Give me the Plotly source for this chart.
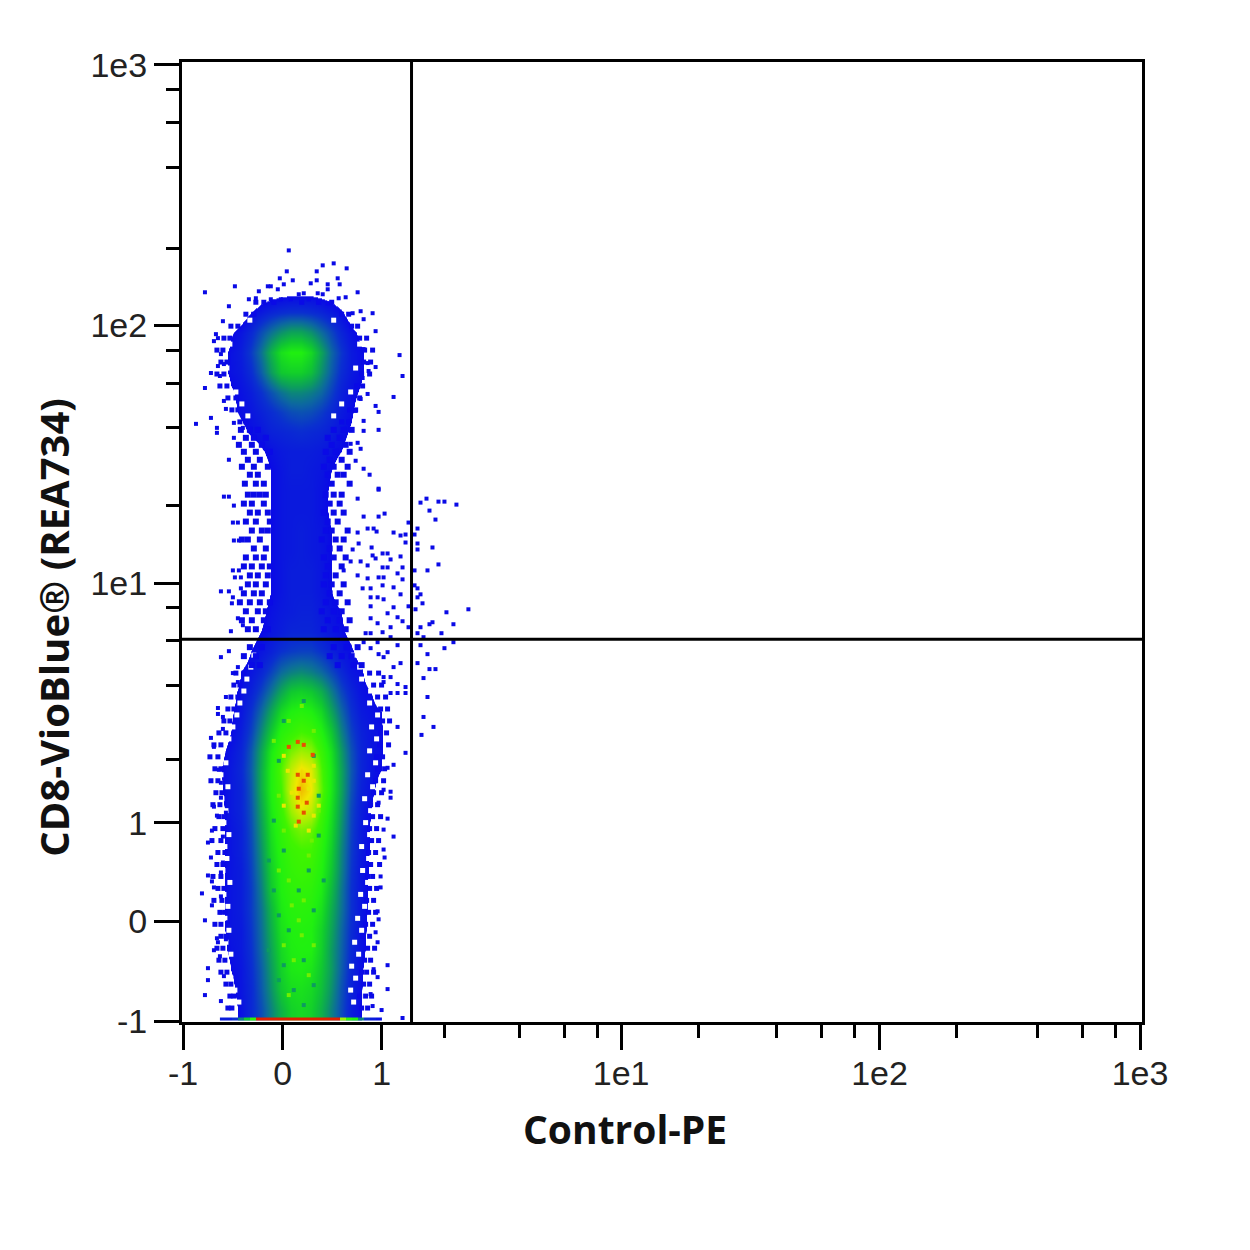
import plotly.graph_objects as go

# display channels, same scale on both axes
major_ticks = [-1, 99, 198, 438, 697, 958]
tick_labels = ["-1", "0", "1", "1e1", "1e2", "1e3"]
minor_ticks = [261, 336, 381, 414, 516, 594, 639, 672, 774, 855, 900, 933]
gate_x = 228
gate_y = 382

x_bins = [17, 27, 37, 47, 57, 67, 77, 87, 97, 107, 117, 127, 137, 147, 157, 167, 177, 187, 197, 207, 217]
y_bins = [10, 30, 50, 70, 90, 110, 130, 150, 170, 190, 210, 230, 250, 270, 290, 310, 330, 350, 370, 390,
          410, 430, 450, 470, 490, 510, 530, 550, 570, 590, 610, 630, 650, 670, 690, 710, 730]

# density level per bin (bottom row first)
density = [
    [0, 0, 0, .6, 1.2, 1.8, 2.5, 3.5, 4.5, 5.2, 5.4, 5.2, 4.5, 3.5, 2.5, 1.5, 1, 0, 0, 0, 0],
    [0, 0, 0, .8, 1.3, 1.8, 2.7, 3.8, 5, 5.5, 5.6, 5.4, 4.8, 3.8, 2.6, 1.6, 1.1, 0, 0, 0, 0],
    [0, 0, .3, 1, 1.3, 1.9, 2.8, 4, 5.2, 5.8, 5.9, 5.7, 5, 4, 2.8, 1.7, 1.1, .5, 0, 0, 0],
    [0, 0, .7, 1.2, 1.4, 2, 3, 4.2, 5.4, 5.9, 6, 6, 5.2, 4, 2.9, 1.8, 1.2, .7, 0, 0, 0],
    [0, 0, .8, 1.3, 1.4, 2.1, 3.1, 4.4, 5.6, 6, 6.1, 6, 5.3, 4.2, 3, 1.9, 1.2, .8, 0, 0, 0],
    [0, 0, .8, 1.3, 1.5, 2.2, 3.2, 4.6, 5.8, 6.2, 6.3, 6.2, 5.6, 4.4, 3.2, 2, 1.3, .8, 0, 0, 0],
    [0, 0, .8, 1.3, 1.5, 2.2, 3.4, 5, 6, 6.4, 6.5, 6.4, 5.9, 4.7, 3.3, 2, 1.3, .8, 0, 0, 0],
    [0, 0, .8, 1.3, 1.5, 2.3, 3.6, 5.2, 6.1, 6.6, 6.8, 6.7, 6.1, 5, 3.5, 2.1, 1.3, .9, 0, 0, 0],
    [0, 0, .8, 1.3, 1.6, 2.4, 3.8, 5.4, 6.3, 6.8, 7, 7, 6.3, 5.2, 3.6, 2.2, 1.4, .9, 0, 0, 0],
    [0, 0, .8, 1.3, 1.6, 2.5, 4, 5.6, 6.5, 7.2, 7.6, 7.4, 6.6, 5.4, 3.8, 2.3, 1.4, .9, 0, 0, 0],
    [0, 0, .8, 1.4, 1.7, 2.6, 4.2, 5.8, 6.8, 8, 8.8, 8.4, 7, 5.6, 4, 2.4, 1.5, 1, 0, 0, 0],
    [0, 0, .9, 1.4, 1.7, 2.7, 4.4, 6, 7, 8.6, 9.6, 9, 7.4, 5.8, 4.2, 2.6, 1.6, 1.2, .6, 0, 0],
    [0, 0, 1, 1.4, 1.8, 2.8, 4.4, 6, 7.2, 8.4, 9.2, 8.8, 7.2, 5.8, 4.2, 2.7, 1.7, 1.3, 1, 0, 0],
    [0, 0, .8, 1.3, 1.7, 2.7, 4.2, 5.8, 6.8, 7.6, 8, 7.8, 6.8, 5.6, 4, 2.6, 1.7, 1.3, 1.1, .4, 0],
    [0, 0, .4, 1, 1.5, 2.3, 3.6, 5, 6.2, 6.6, 7, 6.8, 6.1, 5, 3.5, 2.3, 1.6, 1.3, 1.1, .4, 0],
    [0, 0, 0, .9, 1.3, 2, 3, 4.2, 5.4, 6, 6.2, 6, 5.4, 4.2, 3, 2, 1.4, 1.2, 1, .3, 0],
    [0, 0, 0, .7, 1.2, 1.6, 2.3, 3.2, 4.2, 5, 5.2, 5, 4.4, 3.4, 2.4, 1.7, 1.2, 1, .5, 0, 0],
    [0, 0, 0, 0, 1, 1.3, 1.7, 2.3, 3, 3.4, 3.6, 3.4, 3, 2.4, 1.8, 1.3, 1.1, .5, 0, 0, 0],
    [0, 0, 0, 0, .5, 1, 1.3, 1.6, 2, 2.2, 2.3, 2.3, 2, 1.6, 1.3, 1.1, .7, 0, 0, 0, 0],
    [0, 0, 0, 0, 0, .7, 1, 1.3, 1.5, 1.7, 1.7, 1.7, 1.5, 1.3, 1.1, .8, 0, 0, 0, 0, 0],
    [0, 0, 0, 0, 0, .5, .8, 1.2, 1.4, 1.5, 1.6, 1.6, 1.4, 1.2, 1, .6, 0, 0, 0, 0, 0],
    [0, 0, 0, 0, 0, 0, .6, 1, 1.3, 1.5, 1.5, 1.5, 1.3, 1, .7, 0, 0, 0, 0, 0, 0],
    [0, 0, 0, 0, 0, 0, .6, 1, 1.3, 1.5, 1.5, 1.5, 1.3, 1, .7, 0, 0, 0, 0, 0, 0],
    [0, 0, 0, 0, 0, 0, .5, 1, 1.3, 1.4, 1.5, 1.4, 1.3, 1, .6, 0, 0, 0, 0, 0, 0],
    [0, 0, 0, 0, 0, 0, .5, 1, 1.3, 1.4, 1.5, 1.4, 1.3, 1, .6, 0, 0, 0, 0, 0, 0],
    [0, 0, 0, 0, 0, 0, .5, 1, 1.3, 1.4, 1.4, 1.4, 1.2, .9, .5, 0, 0, 0, 0, 0, 0],
    [0, 0, 0, 0, 0, 0, .5, 1, 1.3, 1.4, 1.4, 1.4, 1.2, .9, .5, 0, 0, 0, 0, 0, 0],
    [0, 0, 0, 0, 0, 0, .6, 1, 1.3, 1.5, 1.5, 1.4, 1.3, 1, .7, 0, 0, 0, 0, 0, 0],
    [0, 0, 0, 0, 0, .6, .9, 1.2, 1.4, 1.5, 1.5, 1.5, 1.4, 1.2, 1, .7, 0, 0, 0, 0, 0],
    [0, 0, 0, .5, .8, 1.1, 1.3, 1.6, 1.7, 1.8, 1.9, 1.8, 1.7, 1.5, 1.2, .9, .5, 0, 0, 0, 0],
    [0, 0, 0, .8, 1.1, 1.3, 1.6, 1.9, 2.2, 2.5, 2.6, 2.5, 2.2, 1.8, 1.4, 1.1, .6, 0, 0, 0, 0],
    [0, 0, 0, .9, 1.2, 1.5, 2, 2.6, 3.2, 3.6, 3.6, 3.4, 3, 2.3, 1.6, 1.2, .9, 0, 0, 0, 0],
    [0, 0, .6, 1.2, 1.4, 1.9, 2.8, 4, 5, 5.2, 5.2, 4.8, 3.8, 2.8, 1.9, 1.4, 1.1, .7, 0, 0, 0],
    [0, 0, .6, 1.2, 1.5, 2.2, 3.2, 4.5, 5.6, 6, 6, 5.4, 4.2, 3, 2.1, 1.4, 1.1, .7, 0, 0, 0],
    [0, 0, 0, .9, 1.3, 1.8, 2.5, 3.2, 3.8, 4.2, 4.2, 3.8, 3.1, 2.4, 1.7, 1.2, .8, 0, 0, 0, 0],
    [0, 0, 0, 0, .5, 1, 1.4, 1.7, 1.9, 2, 2, 1.9, 1.7, 1.4, 1.1, .6, 0, 0, 0, 0, 0],
    [0, 0, 0, 0, 0, 0, .4, .6, .7, .8, .8, .8, .7, .6, .4, 0, 0, 0, 0, 0, 0],
]

# events piled up on the bottom edge
floor_x = [39, 45, 51, 57, 63, 69, 75, 81, 87, 93, 99, 105, 111, 117, 123, 129, 135, 141, 147, 153, 159, 165, 171,
           177, 183, 189, 195]
floor_level = [1.5, 1.5, 2, 3.5, 5, 6.5, 11, 11, 11, 11, 11, 11, 11, 11, 11, 11, 11, 11, 11, 11, 8, 6.5, 6, 3.5, 2,
               1.5, 1.2]

# single bins away from the main populations
outliers = [
    (237, 519), (243, 523), (255, 520), (261, 520), (273, 517), (246, 511), (252, 502), (225, 499), (234, 493),
    (231, 487), (222, 487), (222, 479), (234, 478), (234, 472), (249, 474), (255, 457), (244, 451), (231, 451),
    (231, 436), (234, 433), (237, 427), (234, 424), (239, 418), (225, 415), (232, 412), (263, 409), (285, 412),
    (249, 399), (246, 397), (270, 397), (237, 394), (225, 394), (219, 400), (258, 388), (240, 384), (234, 388),
    (270, 379), (261, 373), (237, 376), (244, 367), (234, 358), (246, 352), (252, 352), (240, 343), (222, 334),
    (222, 328), (244, 324), (240, 304), (250, 294), (238, 286), (214, 294), (222, 268),
    (195, 532), (174, 523), (180, 505), (195, 505), (201, 508), (184, 493), (193, 490), (190, 493), (174, 489),
    (210, 489), (217, 486), (175, 478), (188, 474), (169, 472), (199, 468), (204, 468), (189, 466), (192, 463),
    (217, 465), (207, 462), (167, 460), (177, 460), (184, 456), (199, 454), (204, 454), (219, 454), (160, 451),
    (214, 448), (174, 446), (184, 443), (195, 444), (200, 444), (219, 442), (199, 436), (210, 434), (179, 433),
    (187, 433), (217, 427), (187, 424), (194, 424), (200, 422), (187, 415), (210, 414), (204, 408), (214, 404),
    (187, 403), (194, 398), (207, 394), (199, 389), (182, 388), (187, 388), (207, 384), (180, 379), (194, 379),
    (214, 376), (187, 373), (195, 367), (204, 369), (200, 364), (217, 358), (210, 354), (200, 344), (207, 344),
    (200, 339), (214, 337), (207, 328), (214, 328),
    (40, 525), (45, 525), (50, 516), (49, 499), (54, 499), (50, 481), (55, 481), (49, 451), (55, 451), (51, 444),
    (57, 444), (37, 430), (45, 430), (49, 424), (57, 433), (48, 418), (54, 403), (47, 390), (59, 396), (37, 364),
    (45, 370), (54, 354), (49, 348), (54, 339), (42, 324), (34, 313), (34, 307), (39, 304), (39, 292), (27, 283),
    (30, 274),
    (105, 772), (150, 759), (139, 757), (163, 754), (103, 751), (133, 751), (96, 744), (154, 744), (109, 742),
    (133, 742), (127, 739), (144, 738), (156, 738), (51, 736), (144, 733), (174, 730), (21, 730), (189, 709),
    (180, 703), (192, 691), (216, 667), (192, 655), (219, 646), (210, 625), (192, 616), (195, 610), (12, 598),
    (27, 604), (33, 594), (33, 589), (195, 592), (180, 591), (45, 562), (186, 547), (180, 553), (195, 533),
    (27, 649), (21, 634), (36, 646), (75, 731), (84, 736), (87, 736), (94, 733), (100, 738), (115, 728), (120, 729),
    (134, 729), (139, 728), (162, 725), (155, 724), (65, 723), (45, 716), (72, 724), (87, 723), (97, 723),
    (107, 723), (125, 723), (144, 719), (169, 709), (177, 711), (39, 701), (32, 688), (34, 684), (30, 681),
    (37, 668), (34, 656), (40, 658), (180, 673), (184, 659), (185, 651), (179, 644), (184, 628), (177, 623),
    (172, 611), (180, 601), (174, 579), (167, 578), (177, 573), (172, 561), (40, 621), (42, 613), (50, 599),
    (50, 584), (59, 594),
    (210, 256), (204, 253), (207, 229), (207, 223), (204, 202), (210, 184), (201, 163), (30, 214), (33, 205),
    (28, 190), (24, 178), (27, 163), (24, 145), (28, 139), (30, 133), (18, 127), (28, 115), (21, 100), (30, 70),
    (24, 52), (24, 40), (21, 25), (204, 55), (204, 31), (198, 10), (219, 2), (33, 82), (36, 64),
    (35, 251), (37, 238), (37, 223), (42, 208), (39, 184), (39, 158), (37, 148), (37, 124), (37, 108), (44, 98),
    (34, 78), (42, 81), (40, 44), (37, 19), (200, 231), (195, 218), (200, 191), (200, 171), (197, 144), (197, 133),
    (194, 109), (195, 101), (192, 88), (194, 78), (190, 51), (194, 43), (187, 26), (189, 14),
]

# patchy bins either side of the narrow waist, channel y -> channel x
flank_rows = {
    592: [57, 66, 74, 150, 160, 168], 584: [62, 70, 82, 144, 156], 577: [55, 68, 78, 148, 162],
    570: [60, 72, 86, 142, 152, 166], 562: [64, 76, 146, 158], 555: [58, 70, 84, 140, 150, 164],
    547: [66, 74, 144, 154, 160], 538: [61, 72, 80, 148, 166], 527: [64, 70, 76, 82, 142, 150, 158],
    518: [60, 68, 80, 146, 156], 509: [66, 74, 84, 140, 150, 160], 500: [62, 72, 86, 144, 154],
    491: [68, 78, 84, 142, 148, 164], 482: [58, 64, 76, 138, 152, 160], 473: [70, 82, 146, 156],
    464: [62, 72, 80, 140, 150, 162], 455: [60, 68, 78, 86, 144, 158], 446: [66, 74, 84, 142, 152],
    437: [64, 72, 82, 140, 148, 160], 428: [60, 70, 78, 146, 156], 419: [56, 66, 76, 86, 142, 152, 164],
    410: [62, 74, 82, 138, 150, 158], 401: [58, 68, 80, 144, 156, 166], 392: [64, 72, 84, 140, 152, 162],
    374: [66, 78, 150, 163, 174], 365: [60, 72, 146, 158, 168], 356: [68, 76, 154, 170, 178],
}

# rough outer rim of the two big populations, channel y -> channel x
edge_rows = {
    12: [44, 48, 178, 184], 24: [46, 50, 176, 182, 188], 36: [42, 47, 180, 186], 48: [37, 43, 178, 183, 190],
    60: [35, 41, 181, 187], 72: [33, 39, 184, 191], 84: [37, 42, 179, 186], 96: [31, 37, 182, 189],
    108: [36, 41, 185, 192], 120: [30, 38, 183, 190], 132: [34, 40, 186, 193], 144: [29, 37, 184, 189],
    156: [33, 39, 187, 196], 168: [34, 41, 185, 192], 180: [28, 37, 188, 195], 192: [31, 39, 186, 193],
    204: [35, 40, 189, 197], 216: [29, 36, 187, 194], 228: [32, 38, 190, 198], 240: [27, 34, 192, 200],
    252: [31, 37, 194, 201], 264: [26, 34, 193, 199], 276: [30, 37, 196, 205], 288: [35, 42, 197, 203],
    300: [40, 46, 199, 206], 312: [44, 50, 197, 204], 324: [47, 54, 194, 202], 336: [50, 56, 190, 198],
    348: [52, 60, 186, 195],
    600: [56, 62, 158, 165], 612: [48, 54, 166, 172], 624: [44, 52, 170, 176], 636: [36, 43, 173, 179],
    648: [33, 40, 178, 186], 660: [37, 43, 180, 187], 672: [33, 39, 181, 189], 684: [40, 46, 176, 183],
    696: [47, 54, 168, 174], 708: [62, 70, 158, 165], 720: [72, 80, 90, 118, 135, 148],
}

# empty bins just inside that rim, channel y -> channel x
gap_rows = {
    18: [55, 170], 30: [51, 167], 42: [47, 172], 54: [44, 168], 66: [47, 175], 78: [42, 171], 90: [45, 178],
    102: [41, 174], 114: [44, 181], 126: [40, 177], 138: [46, 184], 150: [39, 179], 162: [43, 185], 174: [41, 178],
    186: [45, 186], 198: [40, 182], 210: [42, 187], 222: [38, 181], 234: [44, 189], 246: [37, 184], 258: [42, 192],
    270: [39, 186], 282: [45, 193], 294: [49, 188], 306: [53, 194], 318: [56, 186], 330: [60, 187], 342: [63, 178],
    354: [67, 176], 366: [70, 170],
    606: [64, 150], 618: [58, 158], 630: [52, 167], 654: [43, 172], 678: [46, 176], 702: [66, 150],
}

# grain inside the dense core
grain_dark = [(95, 40), (120, 60), (105, 90), (130, 110), (90, 130), (125, 150), (100, 170), (135, 185), (110, 30),
              (85, 70), (130, 35), (95, 105), (140, 140), (85, 160), (120, 15), (100, 55), (115, 130), (90, 200),
              (135, 225), (100, 300), (120, 320), (130, 265), (95, 260)]
grain_light = [(105, 25), (125, 45), (100, 75), (115, 100), (105, 140), (125, 165), (95, 150), (110, 60), (120, 120),
               (130, 75), (100, 190), (135, 210), (95, 225), (105, 300), (118, 315), (130, 290), (90, 280), (128, 180),
               (108, 115), (118, 85)]
grain_yellow = [(100, 215), (108, 228), (125, 232), (130, 240), (104, 250), (130, 255), (100, 265), (135, 215),
                (112, 195), (125, 190), (130, 205)]
grain_hot = [(114, 246), (124, 246), (120, 240), (115, 232), (114, 223), (123, 218), (114, 214), (120, 208), (115, 199),
             (114, 279), (120, 276), (105, 274), (129, 266)]

BLUE = "#0a0ae6"
Z_MAX = 11
colorscale = [
    [0, "#ffffff"], [0.99 / Z_MAX, "#ffffff"], [1 / Z_MAX, BLUE], [2 / Z_MAX, "#0a30d0"], [3 / Z_MAX, "#0c68a0"],
    [4 / Z_MAX, "#0c9c60"], [5 / Z_MAX, "#10c830"], [6 / Z_MAX, "#20f010"], [7 / Z_MAX, "#40f400"],
    [8 / Z_MAX, "#a0f000"], [9 / Z_MAX, "#f0e800"], [10 / Z_MAX, "#f0a000"], [1, "#e02000"],
]


def rows_to_xy(rows):
    xs = [x for row in rows.values() for x in row]
    ys = [y for y, row in rows.items() for _ in row]
    return xs, ys


def add_bins(fig, xs, ys, color, size):
    fig.add_trace(go.Scatter(
        x=xs, y=ys, mode="markers", hoverinfo="skip",
        marker=dict(symbol="square", size=size, color=color, line_width=0),
    ))


fig = go.Figure()

fig.add_trace(go.Heatmap(
    x=x_bins, y=y_bins, z=density, zmin=0, zmax=Z_MAX, zsmooth="best",
    colorscale=colorscale, showscale=False, hoverinfo="skip",
))
fig.add_trace(go.Heatmap(
    x=floor_x, y0=1, dy=3, z=[floor_level], zmin=0, zmax=Z_MAX,
    colorscale=colorscale, showscale=False, hoverinfo="skip",
))

for points, color in [(grain_dark, "#0c9c60"), (grain_light, "#70f000"), (grain_yellow, "#e8e800"), (grain_hot, "#e85000")]:
    add_bins(fig, [p[0] for p in points], [p[1] for p in points], color, 4)

add_bins(fig, *rows_to_xy(gap_rows), "#ffffff", 5)
add_bins(fig, *rows_to_xy(edge_rows), BLUE, 5)
add_bins(fig, *rows_to_xy(flank_rows), BLUE, 6)
add_bins(fig, [p[0] for p in outliers], [p[1] for p in outliers], BLUE, 4)

axis_style = dict(
    tickmode="array", tickvals=major_ticks, ticktext=tick_labels,
    ticks="outside", ticklen=25, tickwidth=3, tickcolor="#000",
    minor=dict(tickmode="array", tickvals=minor_ticks, ticks="outside", ticklen=13, tickwidth=3, tickcolor="#000"),
    showline=True, linecolor="#000", linewidth=3, mirror=True,
    showgrid=False, zeroline=False,
    tickfont=dict(family="Liberation Sans", size=34, color="#222"),
)

fig.update_layout(
    width=1250, height=1250, showlegend=False,
    margin=dict(l=174, r=116, t=54, b=236, autoexpand=False),
    paper_bgcolor="white", plot_bgcolor="white",
    xaxis=dict(range=[-2, 960], ticklabelstandoff=-6, **axis_style),
    yaxis=dict(range=[-2, 961], **axis_style),
    shapes=[
        dict(type="line", xref="x", yref="paper", x0=gate_x, x1=gate_x, y0=0, y1=1, line=dict(color="#000", width=3)),
        dict(type="line", xref="paper", yref="y", x0=0, x1=1, y0=gate_y, y1=gate_y, line=dict(color="#000", width=3)),
    ],
    annotations=[
        dict(text="<b>Control-PE</b>", xref="paper", yref="paper", x=0.4615, y=-0.111, showarrow=False,
             xanchor="center", yanchor="middle", font=dict(family="Open Sans", size=39, color="#111")),
        dict(text="<b>CD8-VioBlue® (REA734)</b>", xref="paper", yref="paper", x=-0.134, y=0.411, showarrow=False,
             xanchor="center", yanchor="middle", textangle=-90, font=dict(family="Open Sans", size=40, color="#111")),
    ],
)

fig.write_html("out.html")
